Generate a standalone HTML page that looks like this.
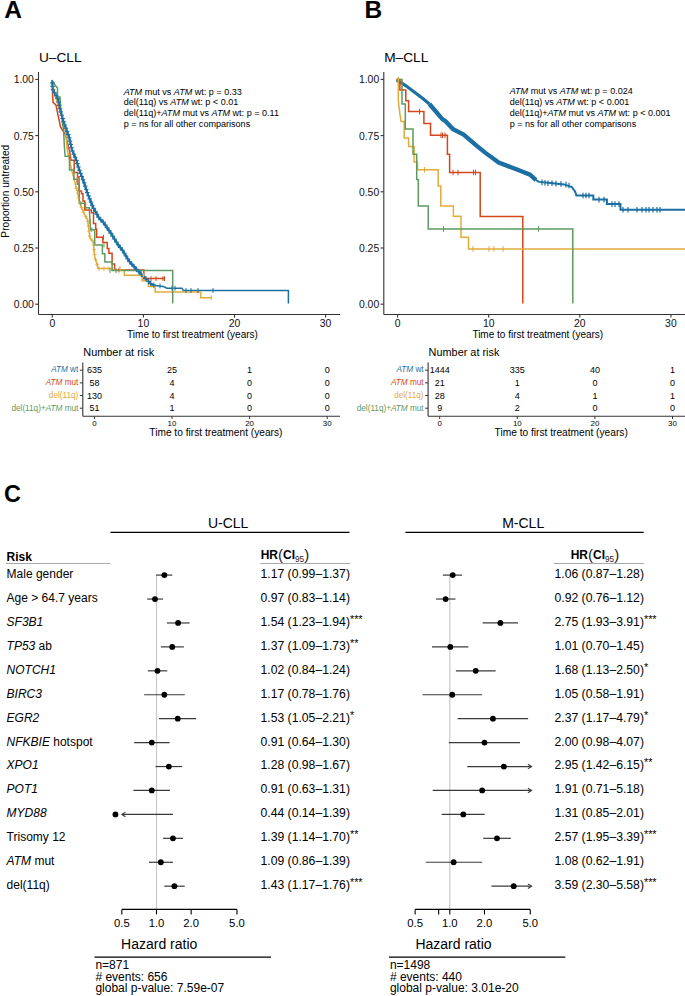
<!DOCTYPE html>
<html><head><meta charset="utf-8"><style>
html,body{margin:0;padding:0;background:#fff;width:685px;height:996px;overflow:hidden}
svg{display:block;font-family:"Liberation Sans", sans-serif}
</style></head><body>
<svg width="685" height="996" viewBox="0 0 685 996">
<rect width="685" height="996" fill="#fff"/>
<text x="4.20" y="17.60" font-size="24.5" text-anchor="start" font-weight="bold" fill="#000"  >A</text>
<text x="364.40" y="17.60" font-size="24.5" text-anchor="start" font-weight="bold" fill="#000"  >B</text>
<text x="4.00" y="502.20" font-size="23.5" text-anchor="start" font-weight="bold" fill="#000"  >C</text>
<text x="38.90" y="62.20" font-size="13.7" text-anchor="start" font-weight="normal" fill="#000"  >U–CLL</text>
<line x1="38.50" y1="72.00" x2="38.50" y2="314.50" stroke="#333" stroke-width="1.1"/>
<line x1="38.50" y1="314.50" x2="340.00" y2="314.50" stroke="#333" stroke-width="1.1"/>
<line x1="35.30" y1="79.40" x2="38.50" y2="79.40" stroke="#333" stroke-width="1.1"/>
<text x="33.90" y="83.30" font-size="10.4" text-anchor="end" font-weight="normal" fill="#111"  >1.00</text>
<line x1="35.30" y1="135.60" x2="38.50" y2="135.60" stroke="#333" stroke-width="1.1"/>
<text x="33.90" y="139.50" font-size="10.4" text-anchor="end" font-weight="normal" fill="#111"  >0.75</text>
<line x1="35.30" y1="191.80" x2="38.50" y2="191.80" stroke="#333" stroke-width="1.1"/>
<text x="33.90" y="195.70" font-size="10.4" text-anchor="end" font-weight="normal" fill="#111"  >0.50</text>
<line x1="35.30" y1="248.00" x2="38.50" y2="248.00" stroke="#333" stroke-width="1.1"/>
<text x="33.90" y="251.90" font-size="10.4" text-anchor="end" font-weight="normal" fill="#111"  >0.25</text>
<line x1="35.30" y1="304.20" x2="38.50" y2="304.20" stroke="#333" stroke-width="1.1"/>
<text x="33.90" y="308.10" font-size="10.4" text-anchor="end" font-weight="normal" fill="#111"  >0.00</text>
<line x1="52.30" y1="314.50" x2="52.30" y2="317.60" stroke="#333" stroke-width="1.1"/>
<text x="52.30" y="326.90" font-size="10.4" text-anchor="middle" font-weight="normal" fill="#111"  >0</text>
<line x1="143.40" y1="314.50" x2="143.40" y2="317.60" stroke="#333" stroke-width="1.1"/>
<text x="143.40" y="326.90" font-size="10.4" text-anchor="middle" font-weight="normal" fill="#111"  >10</text>
<line x1="234.50" y1="314.50" x2="234.50" y2="317.60" stroke="#333" stroke-width="1.1"/>
<text x="234.50" y="326.90" font-size="10.4" text-anchor="middle" font-weight="normal" fill="#111"  >20</text>
<line x1="325.60" y1="314.50" x2="325.60" y2="317.60" stroke="#333" stroke-width="1.1"/>
<text x="325.60" y="326.90" font-size="10.4" text-anchor="middle" font-weight="normal" fill="#111"  >30</text>
<text x="192.50" y="337.90" font-size="10" text-anchor="middle" font-weight="normal" fill="#000"  >Time to first treatment (years)</text>
<text transform="translate(8.5,191.2) rotate(-90)" font-size="10.2" text-anchor="middle">Proportion untreated</text>
<text x="123.70" y="94.50" font-size="9.05" text-anchor="start" font-weight="normal" fill="#000"  ><tspan font-style="italic">ATM</tspan> mut vs <tspan font-style="italic">ATM</tspan> wt: p = 0.33</text>
<text x="123.70" y="105.30" font-size="9.05" text-anchor="start" font-weight="normal" fill="#000"  >del(11q) vs <tspan font-style="italic">ATM</tspan> wt: p &lt; 0.01</text>
<text x="123.70" y="116.10" font-size="9.05" text-anchor="start" font-weight="normal" fill="#000"  >del(11q)+<tspan font-style="italic">ATM</tspan> mut vs <tspan font-style="italic">ATM</tspan> wt: p = 0.11</text>
<text x="123.70" y="126.90" font-size="9.05" text-anchor="start" font-weight="normal" fill="#000"  >p = ns for all other comparisons</text>
<polyline points="52.0,80.0 53.0,90.0 58.0,99.1 60.0,109.1 64.0,123.2 69.1,137.2 72.0,150.0 76.1,159.5 79.7,171.2 84.1,182.8 87.7,193.8 92.8,206.9 99.3,218.5 103.1,221.9 111.6,234.3 118.0,244.7 122.8,250.7 128.9,260.9 136.1,269.0 142.2,275.2 148.4,281.3 151.7,284.6 155.0,285.4" fill="none" stroke="#1b6fa3" stroke-width="1.9" stroke-linejoin="miter"/>
<polyline points="155.0,285.4 163.4,286.5 166.9,288.2 182.0,288.2 183.2,290.5 288.4,290.5 288.4,303.4" fill="none" stroke="#1b6fa3" stroke-width="1.5" stroke-linejoin="miter"/>
<polyline points="52.0,80.0 52.5,92.0 53.0,102.1 56.0,105.1 58.0,115.2 60.6,127.2 65.6,135.2 69.6,151.3 71.0,160.2 74.2,160.2 74.2,172.6 77.5,172.6 77.5,177.0 79.0,177.0 79.0,190.9 81.5,190.9 81.5,193.8 83.0,193.8 83.0,201.1 84.8,201.1 84.8,209.9 91.4,209.9 91.4,212.8 93.5,212.8 93.5,223.6 95.7,223.6 95.7,228.9 96.6,228.9 96.6,237.2 102.8,237.2 102.8,242.5 107.2,242.5 107.2,248.4 108.9,248.4 108.9,253.3 112.1,253.3 112.1,263.9 114.6,263.9 114.6,270.1 143.8,270.1 143.8,278.6 164.5,278.6" fill="none" stroke="#d5461a" stroke-width="1.5" stroke-linejoin="miter"/>
<polyline points="52.0,80.0 55.0,95.0 59.0,108.1 62.0,117.2 65.6,131.2 67.3,150.0 72.0,171.2 74.6,180.7 75.7,186.5 77.5,191.6 79.3,201.1 81.2,206.9 84.1,213.5 87.6,220.0 90.1,238.4 93.2,241.5 94.7,256.8 98.3,268.5 112.0,268.5 112.0,270.0 124.3,270.0 124.3,275.2 142.2,275.2 142.2,280.8 148.4,280.8 148.4,286.4 155.2,286.4 155.2,291.9 200.7,291.9 200.7,297.8 211.3,297.8" fill="none" stroke="#e1ab3a" stroke-width="1.5" stroke-linejoin="miter"/>
<polyline points="52.0,80.0 55.0,85.0 57.5,88.0 57.5,97.1 60.0,97.1 60.6,108.1 63.6,131.2 64.6,150.0 65.1,156.2 69.5,156.2 69.5,170.0 73.9,170.0 73.9,179.2 77.2,179.2 77.2,184.3 79.3,184.3 79.3,203.3 85.5,203.3 85.5,207.7 89.2,207.7 90.6,229.7 94.7,229.7 94.7,245.0 102.4,245.0 102.4,253.7 104.9,253.7 104.9,261.9 112.1,261.9 112.1,270.6 172.7,270.6 172.7,303.4" fill="none" stroke="#5e9a62" stroke-width="1.5" stroke-linejoin="miter"/>
<line x1="52.30" y1="80.39" x2="52.30" y2="85.59" stroke="#1b6fa3" stroke-width="1.1"/>
<line x1="50.00" y1="82.99" x2="54.60" y2="82.99" stroke="#1b6fa3" stroke-width="1.1"/>
<line x1="52.64" y1="83.77" x2="52.64" y2="88.97" stroke="#1b6fa3" stroke-width="1.1"/>
<line x1="50.34" y1="86.37" x2="54.94" y2="86.37" stroke="#1b6fa3" stroke-width="1.1"/>
<line x1="52.98" y1="87.15" x2="52.98" y2="92.35" stroke="#1b6fa3" stroke-width="1.1"/>
<line x1="50.68" y1="89.75" x2="55.28" y2="89.75" stroke="#1b6fa3" stroke-width="1.1"/>
<line x1="54.52" y1="90.16" x2="54.52" y2="95.36" stroke="#1b6fa3" stroke-width="1.1"/>
<line x1="52.22" y1="92.76" x2="56.82" y2="92.76" stroke="#1b6fa3" stroke-width="1.1"/>
<line x1="56.15" y1="93.14" x2="56.15" y2="98.34" stroke="#1b6fa3" stroke-width="1.1"/>
<line x1="53.85" y1="95.74" x2="58.45" y2="95.74" stroke="#1b6fa3" stroke-width="1.1"/>
<line x1="57.79" y1="96.12" x2="57.79" y2="101.32" stroke="#1b6fa3" stroke-width="1.1"/>
<line x1="55.49" y1="98.72" x2="60.09" y2="98.72" stroke="#1b6fa3" stroke-width="1.1"/>
<line x1="58.58" y1="99.41" x2="58.58" y2="104.61" stroke="#1b6fa3" stroke-width="1.1"/>
<line x1="56.28" y1="102.01" x2="60.88" y2="102.01" stroke="#1b6fa3" stroke-width="1.1"/>
<line x1="59.25" y1="102.74" x2="59.25" y2="107.94" stroke="#1b6fa3" stroke-width="1.1"/>
<line x1="56.95" y1="105.34" x2="61.55" y2="105.34" stroke="#1b6fa3" stroke-width="1.1"/>
<line x1="59.92" y1="106.08" x2="59.92" y2="111.28" stroke="#1b6fa3" stroke-width="1.1"/>
<line x1="57.62" y1="108.68" x2="62.22" y2="108.68" stroke="#1b6fa3" stroke-width="1.1"/>
<line x1="60.81" y1="109.36" x2="60.81" y2="114.56" stroke="#1b6fa3" stroke-width="1.1"/>
<line x1="58.51" y1="111.96" x2="63.11" y2="111.96" stroke="#1b6fa3" stroke-width="1.1"/>
<line x1="61.74" y1="112.63" x2="61.74" y2="117.83" stroke="#1b6fa3" stroke-width="1.1"/>
<line x1="59.44" y1="115.23" x2="64.04" y2="115.23" stroke="#1b6fa3" stroke-width="1.1"/>
<line x1="62.67" y1="115.90" x2="62.67" y2="121.10" stroke="#1b6fa3" stroke-width="1.1"/>
<line x1="60.37" y1="118.50" x2="64.97" y2="118.50" stroke="#1b6fa3" stroke-width="1.1"/>
<line x1="63.59" y1="119.17" x2="63.59" y2="124.37" stroke="#1b6fa3" stroke-width="1.1"/>
<line x1="61.29" y1="121.77" x2="65.89" y2="121.77" stroke="#1b6fa3" stroke-width="1.1"/>
<line x1="64.65" y1="122.40" x2="64.65" y2="127.60" stroke="#1b6fa3" stroke-width="1.1"/>
<line x1="62.35" y1="125.00" x2="66.95" y2="125.00" stroke="#1b6fa3" stroke-width="1.1"/>
<line x1="65.82" y1="125.59" x2="65.82" y2="130.79" stroke="#1b6fa3" stroke-width="1.1"/>
<line x1="63.52" y1="128.19" x2="68.12" y2="128.19" stroke="#1b6fa3" stroke-width="1.1"/>
<line x1="66.98" y1="128.79" x2="66.98" y2="133.99" stroke="#1b6fa3" stroke-width="1.1"/>
<line x1="64.68" y1="131.39" x2="69.28" y2="131.39" stroke="#1b6fa3" stroke-width="1.1"/>
<line x1="68.15" y1="131.98" x2="68.15" y2="137.18" stroke="#1b6fa3" stroke-width="1.1"/>
<line x1="65.85" y1="134.58" x2="70.45" y2="134.58" stroke="#1b6fa3" stroke-width="1.1"/>
<line x1="69.24" y1="135.20" x2="69.24" y2="140.40" stroke="#1b6fa3" stroke-width="1.1"/>
<line x1="66.94" y1="137.80" x2="71.54" y2="137.80" stroke="#1b6fa3" stroke-width="1.1"/>
<line x1="69.99" y1="138.51" x2="69.99" y2="143.71" stroke="#1b6fa3" stroke-width="1.1"/>
<line x1="67.69" y1="141.11" x2="72.29" y2="141.11" stroke="#1b6fa3" stroke-width="1.1"/>
<line x1="70.74" y1="141.83" x2="70.74" y2="147.03" stroke="#1b6fa3" stroke-width="1.1"/>
<line x1="68.44" y1="144.43" x2="73.04" y2="144.43" stroke="#1b6fa3" stroke-width="1.1"/>
<line x1="71.49" y1="145.15" x2="71.49" y2="150.35" stroke="#1b6fa3" stroke-width="1.1"/>
<line x1="69.19" y1="147.75" x2="73.79" y2="147.75" stroke="#1b6fa3" stroke-width="1.1"/>
<line x1="72.43" y1="148.40" x2="72.43" y2="153.60" stroke="#1b6fa3" stroke-width="1.1"/>
<line x1="70.13" y1="151.00" x2="74.73" y2="151.00" stroke="#1b6fa3" stroke-width="1.1"/>
<line x1="73.78" y1="151.52" x2="73.78" y2="156.72" stroke="#1b6fa3" stroke-width="1.1"/>
<line x1="71.48" y1="154.12" x2="76.08" y2="154.12" stroke="#1b6fa3" stroke-width="1.1"/>
<line x1="75.13" y1="154.64" x2="75.13" y2="159.84" stroke="#1b6fa3" stroke-width="1.1"/>
<line x1="72.83" y1="157.24" x2="77.43" y2="157.24" stroke="#1b6fa3" stroke-width="1.1"/>
<line x1="76.38" y1="157.80" x2="76.38" y2="163.00" stroke="#1b6fa3" stroke-width="1.1"/>
<line x1="74.08" y1="160.40" x2="78.68" y2="160.40" stroke="#1b6fa3" stroke-width="1.1"/>
<line x1="77.38" y1="161.05" x2="77.38" y2="166.25" stroke="#1b6fa3" stroke-width="1.1"/>
<line x1="75.08" y1="163.65" x2="79.68" y2="163.65" stroke="#1b6fa3" stroke-width="1.1"/>
<line x1="78.38" y1="164.30" x2="78.38" y2="169.50" stroke="#1b6fa3" stroke-width="1.1"/>
<line x1="76.08" y1="166.90" x2="80.68" y2="166.90" stroke="#1b6fa3" stroke-width="1.1"/>
<line x1="79.38" y1="167.55" x2="79.38" y2="172.75" stroke="#1b6fa3" stroke-width="1.1"/>
<line x1="77.08" y1="170.15" x2="81.68" y2="170.15" stroke="#1b6fa3" stroke-width="1.1"/>
<line x1="80.52" y1="170.75" x2="80.52" y2="175.95" stroke="#1b6fa3" stroke-width="1.1"/>
<line x1="78.22" y1="173.35" x2="82.82" y2="173.35" stroke="#1b6fa3" stroke-width="1.1"/>
<line x1="81.72" y1="173.93" x2="81.72" y2="179.13" stroke="#1b6fa3" stroke-width="1.1"/>
<line x1="79.42" y1="176.53" x2="84.02" y2="176.53" stroke="#1b6fa3" stroke-width="1.1"/>
<line x1="82.93" y1="177.11" x2="82.93" y2="182.31" stroke="#1b6fa3" stroke-width="1.1"/>
<line x1="80.63" y1="179.71" x2="85.23" y2="179.71" stroke="#1b6fa3" stroke-width="1.1"/>
<line x1="84.13" y1="180.29" x2="84.13" y2="185.49" stroke="#1b6fa3" stroke-width="1.1"/>
<line x1="81.83" y1="182.89" x2="86.43" y2="182.89" stroke="#1b6fa3" stroke-width="1.1"/>
<line x1="85.19" y1="183.52" x2="85.19" y2="188.72" stroke="#1b6fa3" stroke-width="1.1"/>
<line x1="82.89" y1="186.12" x2="87.49" y2="186.12" stroke="#1b6fa3" stroke-width="1.1"/>
<line x1="86.24" y1="186.75" x2="86.24" y2="191.95" stroke="#1b6fa3" stroke-width="1.1"/>
<line x1="83.94" y1="189.35" x2="88.54" y2="189.35" stroke="#1b6fa3" stroke-width="1.1"/>
<line x1="87.30" y1="189.98" x2="87.30" y2="195.18" stroke="#1b6fa3" stroke-width="1.1"/>
<line x1="85.00" y1="192.58" x2="89.60" y2="192.58" stroke="#1b6fa3" stroke-width="1.1"/>
<line x1="88.47" y1="193.17" x2="88.47" y2="198.37" stroke="#1b6fa3" stroke-width="1.1"/>
<line x1="86.17" y1="195.77" x2="90.77" y2="195.77" stroke="#1b6fa3" stroke-width="1.1"/>
<line x1="89.70" y1="196.34" x2="89.70" y2="201.54" stroke="#1b6fa3" stroke-width="1.1"/>
<line x1="87.40" y1="198.94" x2="92.00" y2="198.94" stroke="#1b6fa3" stroke-width="1.1"/>
<line x1="90.94" y1="199.51" x2="90.94" y2="204.71" stroke="#1b6fa3" stroke-width="1.1"/>
<line x1="88.64" y1="202.11" x2="93.24" y2="202.11" stroke="#1b6fa3" stroke-width="1.1"/>
<line x1="92.17" y1="202.68" x2="92.17" y2="207.88" stroke="#1b6fa3" stroke-width="1.1"/>
<line x1="89.87" y1="205.28" x2="94.47" y2="205.28" stroke="#1b6fa3" stroke-width="1.1"/>
<line x1="93.61" y1="205.75" x2="93.61" y2="210.95" stroke="#1b6fa3" stroke-width="1.1"/>
<line x1="91.31" y1="208.35" x2="95.91" y2="208.35" stroke="#1b6fa3" stroke-width="1.1"/>
<line x1="95.27" y1="208.72" x2="95.27" y2="213.92" stroke="#1b6fa3" stroke-width="1.1"/>
<line x1="92.97" y1="211.32" x2="97.57" y2="211.32" stroke="#1b6fa3" stroke-width="1.1"/>
<line x1="96.94" y1="211.68" x2="96.94" y2="216.88" stroke="#1b6fa3" stroke-width="1.1"/>
<line x1="94.64" y1="214.28" x2="99.24" y2="214.28" stroke="#1b6fa3" stroke-width="1.1"/>
<line x1="98.60" y1="214.65" x2="98.60" y2="219.85" stroke="#1b6fa3" stroke-width="1.1"/>
<line x1="96.30" y1="217.25" x2="100.90" y2="217.25" stroke="#1b6fa3" stroke-width="1.1"/>
<line x1="100.76" y1="217.21" x2="100.76" y2="222.41" stroke="#1b6fa3" stroke-width="1.1"/>
<line x1="98.46" y1="219.81" x2="103.06" y2="219.81" stroke="#1b6fa3" stroke-width="1.1"/>
<line x1="103.25" y1="219.52" x2="103.25" y2="224.72" stroke="#1b6fa3" stroke-width="1.1"/>
<line x1="100.95" y1="222.12" x2="105.55" y2="222.12" stroke="#1b6fa3" stroke-width="1.1"/>
<line x1="105.17" y1="222.32" x2="105.17" y2="227.52" stroke="#1b6fa3" stroke-width="1.1"/>
<line x1="102.87" y1="224.92" x2="107.47" y2="224.92" stroke="#1b6fa3" stroke-width="1.1"/>
<line x1="107.09" y1="225.13" x2="107.09" y2="230.33" stroke="#1b6fa3" stroke-width="1.1"/>
<line x1="104.79" y1="227.73" x2="109.39" y2="227.73" stroke="#1b6fa3" stroke-width="1.1"/>
<line x1="109.02" y1="227.93" x2="109.02" y2="233.13" stroke="#1b6fa3" stroke-width="1.1"/>
<line x1="106.72" y1="230.53" x2="111.32" y2="230.53" stroke="#1b6fa3" stroke-width="1.1"/>
<line x1="110.94" y1="230.74" x2="110.94" y2="235.94" stroke="#1b6fa3" stroke-width="1.1"/>
<line x1="108.64" y1="233.34" x2="113.24" y2="233.34" stroke="#1b6fa3" stroke-width="1.1"/>
<line x1="112.77" y1="233.60" x2="112.77" y2="238.80" stroke="#1b6fa3" stroke-width="1.1"/>
<line x1="110.47" y1="236.20" x2="115.07" y2="236.20" stroke="#1b6fa3" stroke-width="1.1"/>
<line x1="114.55" y1="236.50" x2="114.55" y2="241.70" stroke="#1b6fa3" stroke-width="1.1"/>
<line x1="112.25" y1="239.10" x2="116.85" y2="239.10" stroke="#1b6fa3" stroke-width="1.1"/>
<line x1="116.33" y1="239.39" x2="116.33" y2="244.59" stroke="#1b6fa3" stroke-width="1.1"/>
<line x1="114.03" y1="241.99" x2="118.63" y2="241.99" stroke="#1b6fa3" stroke-width="1.1"/>
<line x1="118.14" y1="242.27" x2="118.14" y2="247.47" stroke="#1b6fa3" stroke-width="1.1"/>
<line x1="115.84" y1="244.87" x2="120.44" y2="244.87" stroke="#1b6fa3" stroke-width="1.1"/>
<line x1="120.26" y1="244.93" x2="120.26" y2="250.13" stroke="#1b6fa3" stroke-width="1.1"/>
<line x1="117.96" y1="247.53" x2="122.56" y2="247.53" stroke="#1b6fa3" stroke-width="1.1"/>
<line x1="122.39" y1="247.58" x2="122.39" y2="252.78" stroke="#1b6fa3" stroke-width="1.1"/>
<line x1="120.09" y1="250.18" x2="124.69" y2="250.18" stroke="#1b6fa3" stroke-width="1.1"/>
<line x1="124.20" y1="250.45" x2="124.20" y2="255.65" stroke="#1b6fa3" stroke-width="1.1"/>
<line x1="121.90" y1="253.05" x2="126.50" y2="253.05" stroke="#1b6fa3" stroke-width="1.1"/>
<line x1="125.95" y1="253.37" x2="125.95" y2="258.57" stroke="#1b6fa3" stroke-width="1.1"/>
<line x1="123.65" y1="255.97" x2="128.25" y2="255.97" stroke="#1b6fa3" stroke-width="1.1"/>
<line x1="127.69" y1="256.28" x2="127.69" y2="261.48" stroke="#1b6fa3" stroke-width="1.1"/>
<line x1="125.39" y1="258.88" x2="129.99" y2="258.88" stroke="#1b6fa3" stroke-width="1.1"/>
<line x1="129.60" y1="259.09" x2="129.60" y2="264.29" stroke="#1b6fa3" stroke-width="1.1"/>
<line x1="127.30" y1="261.69" x2="131.90" y2="261.69" stroke="#1b6fa3" stroke-width="1.1"/>
<line x1="131.86" y1="261.63" x2="131.86" y2="266.83" stroke="#1b6fa3" stroke-width="1.1"/>
<line x1="129.56" y1="264.23" x2="134.16" y2="264.23" stroke="#1b6fa3" stroke-width="1.1"/>
<line x1="134.12" y1="264.17" x2="134.12" y2="269.37" stroke="#1b6fa3" stroke-width="1.1"/>
<line x1="131.82" y1="266.77" x2="136.42" y2="266.77" stroke="#1b6fa3" stroke-width="1.1"/>
<line x1="136.39" y1="266.70" x2="136.39" y2="271.90" stroke="#1b6fa3" stroke-width="1.1"/>
<line x1="134.09" y1="269.30" x2="138.69" y2="269.30" stroke="#1b6fa3" stroke-width="1.1"/>
<line x1="138.78" y1="269.12" x2="138.78" y2="274.32" stroke="#1b6fa3" stroke-width="1.1"/>
<line x1="136.48" y1="271.72" x2="141.08" y2="271.72" stroke="#1b6fa3" stroke-width="1.1"/>
<line x1="141.16" y1="271.54" x2="141.16" y2="276.74" stroke="#1b6fa3" stroke-width="1.1"/>
<line x1="138.86" y1="274.14" x2="143.46" y2="274.14" stroke="#1b6fa3" stroke-width="1.1"/>
<line x1="143.57" y1="273.94" x2="143.57" y2="279.14" stroke="#1b6fa3" stroke-width="1.1"/>
<line x1="141.27" y1="276.54" x2="145.87" y2="276.54" stroke="#1b6fa3" stroke-width="1.1"/>
<line x1="145.99" y1="276.33" x2="145.99" y2="281.53" stroke="#1b6fa3" stroke-width="1.1"/>
<line x1="143.69" y1="278.93" x2="148.29" y2="278.93" stroke="#1b6fa3" stroke-width="1.1"/>
<line x1="148.41" y1="278.71" x2="148.41" y2="283.91" stroke="#1b6fa3" stroke-width="1.1"/>
<line x1="146.11" y1="281.31" x2="150.71" y2="281.31" stroke="#1b6fa3" stroke-width="1.1"/>
<line x1="150.82" y1="281.12" x2="150.82" y2="286.32" stroke="#1b6fa3" stroke-width="1.1"/>
<line x1="148.52" y1="283.72" x2="153.12" y2="283.72" stroke="#1b6fa3" stroke-width="1.1"/>
<line x1="153.79" y1="282.51" x2="153.79" y2="287.71" stroke="#1b6fa3" stroke-width="1.1"/>
<line x1="151.49" y1="285.11" x2="156.09" y2="285.11" stroke="#1b6fa3" stroke-width="1.1"/>
<line x1="76.37" y1="186.09" x2="76.37" y2="190.69" stroke="#e1ab3a" stroke-width="0.9"/>
<line x1="74.57" y1="188.39" x2="78.17" y2="188.39" stroke="#e1ab3a" stroke-width="0.9"/>
<line x1="77.80" y1="190.86" x2="77.80" y2="195.46" stroke="#e1ab3a" stroke-width="0.9"/>
<line x1="76.00" y1="193.16" x2="79.60" y2="193.16" stroke="#e1ab3a" stroke-width="0.9"/>
<line x1="78.73" y1="195.78" x2="78.73" y2="200.38" stroke="#e1ab3a" stroke-width="0.9"/>
<line x1="76.93" y1="198.08" x2="80.53" y2="198.08" stroke="#e1ab3a" stroke-width="0.9"/>
<line x1="79.90" y1="200.63" x2="79.90" y2="205.23" stroke="#e1ab3a" stroke-width="0.9"/>
<line x1="78.10" y1="202.93" x2="81.70" y2="202.93" stroke="#e1ab3a" stroke-width="0.9"/>
<line x1="81.53" y1="205.35" x2="81.53" y2="209.95" stroke="#e1ab3a" stroke-width="0.9"/>
<line x1="79.73" y1="207.65" x2="83.33" y2="207.65" stroke="#e1ab3a" stroke-width="0.9"/>
<line x1="83.54" y1="209.93" x2="83.54" y2="214.53" stroke="#e1ab3a" stroke-width="0.9"/>
<line x1="81.74" y1="212.23" x2="85.34" y2="212.23" stroke="#e1ab3a" stroke-width="0.9"/>
<line x1="85.81" y1="214.38" x2="85.81" y2="218.98" stroke="#e1ab3a" stroke-width="0.9"/>
<line x1="84.01" y1="216.68" x2="87.61" y2="216.68" stroke="#e1ab3a" stroke-width="0.9"/>
<line x1="87.77" y1="218.92" x2="87.77" y2="223.52" stroke="#e1ab3a" stroke-width="0.9"/>
<line x1="85.97" y1="221.22" x2="89.57" y2="221.22" stroke="#e1ab3a" stroke-width="0.9"/>
<line x1="88.44" y1="223.87" x2="88.44" y2="228.47" stroke="#e1ab3a" stroke-width="0.9"/>
<line x1="86.64" y1="226.17" x2="90.24" y2="226.17" stroke="#e1ab3a" stroke-width="0.9"/>
<line x1="89.11" y1="228.83" x2="89.11" y2="233.43" stroke="#e1ab3a" stroke-width="0.9"/>
<line x1="87.31" y1="231.13" x2="90.91" y2="231.13" stroke="#e1ab3a" stroke-width="0.9"/>
<line x1="89.78" y1="233.78" x2="89.78" y2="238.38" stroke="#e1ab3a" stroke-width="0.9"/>
<line x1="87.98" y1="236.08" x2="91.58" y2="236.08" stroke="#e1ab3a" stroke-width="0.9"/>
<line x1="91.98" y1="237.98" x2="91.98" y2="242.58" stroke="#e1ab3a" stroke-width="0.9"/>
<line x1="90.18" y1="240.28" x2="93.78" y2="240.28" stroke="#e1ab3a" stroke-width="0.9"/>
<line x1="93.52" y1="242.46" x2="93.52" y2="247.06" stroke="#e1ab3a" stroke-width="0.9"/>
<line x1="91.72" y1="244.76" x2="95.32" y2="244.76" stroke="#e1ab3a" stroke-width="0.9"/>
<line x1="94.01" y1="247.44" x2="94.01" y2="252.04" stroke="#e1ab3a" stroke-width="0.9"/>
<line x1="92.21" y1="249.74" x2="95.81" y2="249.74" stroke="#e1ab3a" stroke-width="0.9"/>
<line x1="94.50" y1="252.41" x2="94.50" y2="257.01" stroke="#e1ab3a" stroke-width="0.9"/>
<line x1="92.70" y1="254.71" x2="96.30" y2="254.71" stroke="#e1ab3a" stroke-width="0.9"/>
<line x1="95.55" y1="257.27" x2="95.55" y2="261.87" stroke="#e1ab3a" stroke-width="0.9"/>
<line x1="93.75" y1="259.57" x2="97.35" y2="259.57" stroke="#e1ab3a" stroke-width="0.9"/>
<line x1="97.02" y1="262.05" x2="97.02" y2="266.65" stroke="#e1ab3a" stroke-width="0.9"/>
<line x1="95.22" y1="264.35" x2="98.82" y2="264.35" stroke="#e1ab3a" stroke-width="0.9"/>
<line x1="98.96" y1="266.20" x2="98.96" y2="270.80" stroke="#e1ab3a" stroke-width="0.9"/>
<line x1="97.16" y1="268.50" x2="100.76" y2="268.50" stroke="#e1ab3a" stroke-width="0.9"/>
<line x1="103.96" y1="266.20" x2="103.96" y2="270.80" stroke="#e1ab3a" stroke-width="0.9"/>
<line x1="102.16" y1="268.50" x2="105.76" y2="268.50" stroke="#e1ab3a" stroke-width="0.9"/>
<line x1="108.96" y1="266.20" x2="108.96" y2="270.80" stroke="#e1ab3a" stroke-width="0.9"/>
<line x1="107.16" y1="268.50" x2="110.76" y2="268.50" stroke="#e1ab3a" stroke-width="0.9"/>
<line x1="77.20" y1="177.70" x2="77.20" y2="182.10" stroke="#5e9a62" stroke-width="0.9"/>
<line x1="79.30" y1="184.60" x2="79.30" y2="189.00" stroke="#5e9a62" stroke-width="0.9"/>
<line x1="79.30" y1="193.60" x2="79.30" y2="198.00" stroke="#5e9a62" stroke-width="0.9"/>
<line x1="80.80" y1="201.10" x2="80.80" y2="205.50" stroke="#5e9a62" stroke-width="0.9"/>
<line x1="85.50" y1="205.40" x2="85.50" y2="209.80" stroke="#5e9a62" stroke-width="0.9"/>
<line x1="89.53" y1="210.69" x2="89.53" y2="215.09" stroke="#5e9a62" stroke-width="0.9"/>
<line x1="90.10" y1="219.67" x2="90.10" y2="224.07" stroke="#5e9a62" stroke-width="0.9"/>
<line x1="91.76" y1="227.50" x2="91.76" y2="231.90" stroke="#5e9a62" stroke-width="0.9"/>
<line x1="151.00" y1="276.20" x2="151.00" y2="281.00" stroke="#d5461a" stroke-width="1.0"/>
<line x1="156.00" y1="276.20" x2="156.00" y2="281.00" stroke="#d5461a" stroke-width="1.0"/>
<line x1="163.00" y1="276.20" x2="163.00" y2="281.00" stroke="#d5461a" stroke-width="1.0"/>
<line x1="164.50" y1="276.20" x2="164.50" y2="281.00" stroke="#d5461a" stroke-width="1.0"/>
<line x1="103.50" y1="234.80" x2="103.50" y2="239.60" stroke="#d5461a" stroke-width="1.0"/>
<line x1="119.00" y1="267.70" x2="119.00" y2="272.50" stroke="#d5461a" stroke-width="1.0"/>
<line x1="175.00" y1="285.80" x2="175.00" y2="290.60" stroke="#1b6fa3" stroke-width="1.0"/>
<line x1="186.00" y1="288.10" x2="186.00" y2="292.90" stroke="#1b6fa3" stroke-width="1.0"/>
<line x1="191.00" y1="288.10" x2="191.00" y2="292.90" stroke="#1b6fa3" stroke-width="1.0"/>
<line x1="198.00" y1="288.10" x2="198.00" y2="292.90" stroke="#1b6fa3" stroke-width="1.0"/>
<line x1="213.00" y1="288.10" x2="213.00" y2="292.90" stroke="#1b6fa3" stroke-width="1.0"/>
<line x1="160.00" y1="283.60" x2="160.00" y2="288.40" stroke="#1b6fa3" stroke-width="1.0"/>
<line x1="172.00" y1="285.80" x2="172.00" y2="290.60" stroke="#1b6fa3" stroke-width="1.0"/>
<line x1="211.30" y1="295.40" x2="211.30" y2="300.20" stroke="#e1ab3a" stroke-width="1.0"/>
<line x1="120.00" y1="266.10" x2="120.00" y2="270.90" stroke="#e1ab3a" stroke-width="1.0"/>
<line x1="143.50" y1="272.80" x2="143.50" y2="277.60" stroke="#e1ab3a" stroke-width="1.0"/>
<line x1="104.00" y1="242.60" x2="104.00" y2="247.40" stroke="#5e9a62" stroke-width="1.0"/>
<line x1="110.00" y1="268.20" x2="110.00" y2="273.00" stroke="#5e9a62" stroke-width="1.0"/>
<line x1="116.00" y1="268.20" x2="116.00" y2="273.00" stroke="#5e9a62" stroke-width="1.0"/>
<text x="83.30" y="355.80" font-size="10.9" text-anchor="start" font-weight="normal" fill="#000"  >Number at risk</text>
<line x1="82.80" y1="362.40" x2="82.80" y2="416.20" stroke="#333" stroke-width="1.1"/>
<line x1="82.80" y1="416.20" x2="340.00" y2="416.20" stroke="#333" stroke-width="1.1"/>
<line x1="79.80" y1="370.20" x2="82.80" y2="370.20" stroke="#333" stroke-width="1"/>
<text x="78.30" y="371.80" font-size="8.2" text-anchor="end" font-weight="normal" fill="#1b6fa3"  ><tspan font-style="italic">ATM</tspan> wt</text>
<text x="94.40" y="373.40" font-size="9" text-anchor="middle" font-weight="normal" fill="#000"  >635</text>
<text x="172.00" y="373.40" font-size="9" text-anchor="middle" font-weight="normal" fill="#000"  >25</text>
<text x="249.60" y="373.40" font-size="9" text-anchor="middle" font-weight="normal" fill="#000"  >1</text>
<text x="327.20" y="373.40" font-size="9" text-anchor="middle" font-weight="normal" fill="#000"  >0</text>
<line x1="79.80" y1="382.87" x2="82.80" y2="382.87" stroke="#333" stroke-width="1"/>
<text x="78.30" y="385.00" font-size="8.2" text-anchor="end" font-weight="normal" fill="#d5461a"  ><tspan font-style="italic">ATM</tspan> mut</text>
<text x="94.40" y="386.07" font-size="9" text-anchor="middle" font-weight="normal" fill="#000"  >58</text>
<text x="172.00" y="386.07" font-size="9" text-anchor="middle" font-weight="normal" fill="#000"  >4</text>
<text x="249.60" y="386.07" font-size="9" text-anchor="middle" font-weight="normal" fill="#000"  >0</text>
<text x="327.20" y="386.07" font-size="9" text-anchor="middle" font-weight="normal" fill="#000"  >0</text>
<line x1="79.80" y1="395.54" x2="82.80" y2="395.54" stroke="#333" stroke-width="1"/>
<text x="78.30" y="398.00" font-size="8.2" text-anchor="end" font-weight="normal" fill="#e1ab3a"  >del(11q)</text>
<text x="94.40" y="398.74" font-size="9" text-anchor="middle" font-weight="normal" fill="#000"  >130</text>
<text x="172.00" y="398.74" font-size="9" text-anchor="middle" font-weight="normal" fill="#000"  >4</text>
<text x="249.60" y="398.74" font-size="9" text-anchor="middle" font-weight="normal" fill="#000"  >0</text>
<text x="327.20" y="398.74" font-size="9" text-anchor="middle" font-weight="normal" fill="#000"  >0</text>
<line x1="79.80" y1="408.21" x2="82.80" y2="408.21" stroke="#333" stroke-width="1"/>
<text x="78.30" y="410.60" font-size="8.2" text-anchor="end" font-weight="normal" fill="#5e9a62"  >del(11q)+<tspan font-style="italic">ATM</tspan> mut</text>
<text x="94.40" y="411.41" font-size="9" text-anchor="middle" font-weight="normal" fill="#000"  >51</text>
<text x="172.00" y="411.41" font-size="9" text-anchor="middle" font-weight="normal" fill="#000"  >1</text>
<text x="249.60" y="411.41" font-size="9" text-anchor="middle" font-weight="normal" fill="#000"  >0</text>
<text x="327.20" y="411.41" font-size="9" text-anchor="middle" font-weight="normal" fill="#000"  >0</text>
<line x1="94.40" y1="416.20" x2="94.40" y2="419.00" stroke="#333" stroke-width="1"/>
<text x="94.40" y="425.70" font-size="7.9" text-anchor="middle" font-weight="normal" fill="#000"  >0</text>
<line x1="172.00" y1="416.20" x2="172.00" y2="419.00" stroke="#333" stroke-width="1"/>
<text x="172.00" y="425.70" font-size="7.9" text-anchor="middle" font-weight="normal" fill="#000"  >10</text>
<line x1="249.60" y1="416.20" x2="249.60" y2="419.00" stroke="#333" stroke-width="1"/>
<text x="249.60" y="425.70" font-size="7.9" text-anchor="middle" font-weight="normal" fill="#000"  >20</text>
<line x1="327.20" y1="416.20" x2="327.20" y2="419.00" stroke="#333" stroke-width="1"/>
<text x="327.20" y="425.70" font-size="7.9" text-anchor="middle" font-weight="normal" fill="#000"  >30</text>
<text x="215.90" y="436.00" font-size="10.2" text-anchor="middle" font-weight="normal" fill="#000"  >Time to first treatment (years)</text>
<text x="384.20" y="62.20" font-size="13.7" text-anchor="start" font-weight="normal" fill="#000"  >M–CLL</text>
<line x1="383.80" y1="72.00" x2="383.80" y2="314.50" stroke="#333" stroke-width="1.1"/>
<line x1="383.80" y1="314.50" x2="685.30" y2="314.50" stroke="#333" stroke-width="1.1"/>
<line x1="380.60" y1="79.40" x2="383.80" y2="79.40" stroke="#333" stroke-width="1.1"/>
<text x="379.20" y="83.30" font-size="10.4" text-anchor="end" font-weight="normal" fill="#111"  >1.00</text>
<line x1="380.60" y1="135.60" x2="383.80" y2="135.60" stroke="#333" stroke-width="1.1"/>
<text x="379.20" y="139.50" font-size="10.4" text-anchor="end" font-weight="normal" fill="#111"  >0.75</text>
<line x1="380.60" y1="191.80" x2="383.80" y2="191.80" stroke="#333" stroke-width="1.1"/>
<text x="379.20" y="195.70" font-size="10.4" text-anchor="end" font-weight="normal" fill="#111"  >0.50</text>
<line x1="380.60" y1="248.00" x2="383.80" y2="248.00" stroke="#333" stroke-width="1.1"/>
<text x="379.20" y="251.90" font-size="10.4" text-anchor="end" font-weight="normal" fill="#111"  >0.25</text>
<line x1="380.60" y1="304.20" x2="383.80" y2="304.20" stroke="#333" stroke-width="1.1"/>
<text x="379.20" y="308.10" font-size="10.4" text-anchor="end" font-weight="normal" fill="#111"  >0.00</text>
<line x1="397.60" y1="314.50" x2="397.60" y2="317.60" stroke="#333" stroke-width="1.1"/>
<text x="397.60" y="326.90" font-size="10.4" text-anchor="middle" font-weight="normal" fill="#111"  >0</text>
<line x1="488.70" y1="314.50" x2="488.70" y2="317.60" stroke="#333" stroke-width="1.1"/>
<text x="488.70" y="326.90" font-size="10.4" text-anchor="middle" font-weight="normal" fill="#111"  >10</text>
<line x1="579.80" y1="314.50" x2="579.80" y2="317.60" stroke="#333" stroke-width="1.1"/>
<text x="579.80" y="326.90" font-size="10.4" text-anchor="middle" font-weight="normal" fill="#111"  >20</text>
<line x1="670.90" y1="314.50" x2="670.90" y2="317.60" stroke="#333" stroke-width="1.1"/>
<text x="670.90" y="326.90" font-size="10.4" text-anchor="middle" font-weight="normal" fill="#111"  >30</text>
<text x="537.80" y="337.90" font-size="10" text-anchor="middle" font-weight="normal" fill="#000"  >Time to first treatment (years)</text>
<text x="509.70" y="94.10" font-size="9.05" text-anchor="start" font-weight="normal" fill="#000"  ><tspan font-style="italic">ATM</tspan> mut vs <tspan font-style="italic">ATM</tspan> wt: p = 0.024</text>
<text x="509.70" y="104.90" font-size="9.05" text-anchor="start" font-weight="normal" fill="#000"  >del(11q) vs <tspan font-style="italic">ATM</tspan> wt: p &lt; 0.001</text>
<text x="509.70" y="115.70" font-size="9.05" text-anchor="start" font-weight="normal" fill="#000"  >del(11q)+<tspan font-style="italic">ATM</tspan> mut vs <tspan font-style="italic">ATM</tspan> wt: p &lt; 0.001</text>
<text x="509.70" y="126.50" font-size="9.05" text-anchor="start" font-weight="normal" fill="#000"  >p = ns for all other comparisons</text>
<polyline points="396.6,79.9 405.3,85.3 422.8,98.5 429.4,104.0" fill="none" stroke="#1b6fa3" stroke-width="3.2" stroke-linejoin="miter"/>
<polyline points="429.4,104.0 442.6,119.3 445.3,121.0 453.1,129.3 463.6,134.5 476.8,145.9 485.5,152.9 498.7,162.5 517.0,169.6 530.0,174.7 536.0,180.2" fill="none" stroke="#1b6fa3" stroke-width="4.3" stroke-linejoin="miter"/>
<polyline points="536.0,180.2 539.0,181.9 552.6,183.3 564.0,184.4 571.9,187.1 575.2,191.7 576.4,195.5 593.3,195.5 593.3,199.6 606.9,199.6 606.9,204.1 620.5,204.1 620.5,209.8 685.0,209.8" fill="none" stroke="#1b6fa3" stroke-width="2.0" stroke-linejoin="miter"/>
<polyline points="396.6,79.4 399.9,79.4 399.9,90.1 405.8,90.1 405.8,100.7 408.6,100.7 408.6,111.6 423.9,111.6 423.9,123.6 430.5,123.6 430.5,135.3 447.4,135.3 447.4,154.3 449.6,154.3 449.6,172.5 480.2,172.5 480.2,216.6 522.8,216.6 522.8,303.4" fill="none" stroke="#d5461a" stroke-width="1.5" stroke-linejoin="miter"/>
<polyline points="396.6,79.4 398.3,79.4 398.3,100.7 399.9,113.8 401.0,121.5 404.2,121.5 404.2,137.9 408.6,137.9 408.6,146.6 414.1,146.6 414.1,162.0 417.4,162.0 417.4,169.8 438.2,169.8 438.2,186.0 440.8,186.0 440.8,206.0 453.4,206.0 453.4,216.2 461.0,216.2 461.0,237.3 468.5,237.3 468.5,248.9 685.0,248.9" fill="none" stroke="#e1ab3a" stroke-width="1.5" stroke-linejoin="miter"/>
<polyline points="396.6,79.4 402.0,79.4 402.0,104.0 405.3,104.0 405.3,129.1 413.0,129.1 413.0,154.3 416.7,154.3 416.7,179.5 418.3,179.5 418.3,206.0 428.2,206.0 428.2,229.0 572.8,229.0 572.8,303.4" fill="none" stroke="#5e9a62" stroke-width="1.5" stroke-linejoin="miter"/>
<line x1="419.50" y1="108.80" x2="419.50" y2="114.40" stroke="#d5461a" stroke-width="1.0"/>
<line x1="441.00" y1="132.50" x2="441.00" y2="138.10" stroke="#d5461a" stroke-width="1.0"/>
<line x1="442.50" y1="132.50" x2="442.50" y2="138.10" stroke="#d5461a" stroke-width="1.0"/>
<line x1="445.00" y1="132.50" x2="445.00" y2="138.10" stroke="#d5461a" stroke-width="1.0"/>
<line x1="453.00" y1="169.70" x2="453.00" y2="175.30" stroke="#d5461a" stroke-width="1.0"/>
<line x1="458.00" y1="169.70" x2="458.00" y2="175.30" stroke="#d5461a" stroke-width="1.0"/>
<line x1="473.50" y1="169.70" x2="473.50" y2="175.30" stroke="#d5461a" stroke-width="1.0"/>
<line x1="475.50" y1="169.70" x2="475.50" y2="175.30" stroke="#d5461a" stroke-width="1.0"/>
<line x1="424.50" y1="167.00" x2="424.50" y2="172.60" stroke="#e1ab3a" stroke-width="1.0"/>
<line x1="473.00" y1="246.10" x2="473.00" y2="251.70" stroke="#e1ab3a" stroke-width="1.0"/>
<line x1="489.00" y1="246.10" x2="489.00" y2="251.70" stroke="#e1ab3a" stroke-width="1.0"/>
<line x1="494.00" y1="246.10" x2="494.00" y2="251.70" stroke="#e1ab3a" stroke-width="1.0"/>
<line x1="503.00" y1="246.10" x2="503.00" y2="251.70" stroke="#e1ab3a" stroke-width="1.0"/>
<line x1="398.50" y1="76.60" x2="398.50" y2="82.20" stroke="#e1ab3a" stroke-width="1.0"/>
<line x1="443.50" y1="226.20" x2="443.50" y2="231.80" stroke="#5e9a62" stroke-width="1.0"/>
<line x1="538.50" y1="226.20" x2="538.50" y2="231.80" stroke="#5e9a62" stroke-width="1.0"/>
<line x1="548.00" y1="180.50" x2="548.00" y2="186.10" stroke="#1b6fa3" stroke-width="1.2"/>
<line x1="552.00" y1="180.50" x2="552.00" y2="186.10" stroke="#1b6fa3" stroke-width="1.2"/>
<line x1="556.00" y1="180.80" x2="556.00" y2="186.40" stroke="#1b6fa3" stroke-width="1.2"/>
<line x1="561.00" y1="181.20" x2="561.00" y2="186.80" stroke="#1b6fa3" stroke-width="1.2"/>
<line x1="583.00" y1="192.70" x2="583.00" y2="198.30" stroke="#1b6fa3" stroke-width="1.2"/>
<line x1="586.00" y1="192.70" x2="586.00" y2="198.30" stroke="#1b6fa3" stroke-width="1.2"/>
<line x1="589.00" y1="192.70" x2="589.00" y2="198.30" stroke="#1b6fa3" stroke-width="1.2"/>
<line x1="599.00" y1="196.80" x2="599.00" y2="202.40" stroke="#1b6fa3" stroke-width="1.2"/>
<line x1="604.00" y1="196.80" x2="604.00" y2="202.40" stroke="#1b6fa3" stroke-width="1.2"/>
<line x1="612.00" y1="201.30" x2="612.00" y2="206.90" stroke="#1b6fa3" stroke-width="1.2"/>
<line x1="615.00" y1="201.30" x2="615.00" y2="206.90" stroke="#1b6fa3" stroke-width="1.2"/>
<line x1="619.00" y1="201.30" x2="619.00" y2="206.90" stroke="#1b6fa3" stroke-width="1.2"/>
<line x1="623.00" y1="207.00" x2="623.00" y2="212.60" stroke="#1b6fa3" stroke-width="1.2"/>
<line x1="628.00" y1="207.00" x2="628.00" y2="212.60" stroke="#1b6fa3" stroke-width="1.2"/>
<line x1="637.00" y1="207.00" x2="637.00" y2="212.60" stroke="#1b6fa3" stroke-width="1.2"/>
<line x1="642.00" y1="207.00" x2="642.00" y2="212.60" stroke="#1b6fa3" stroke-width="1.2"/>
<line x1="646.00" y1="207.00" x2="646.00" y2="212.60" stroke="#1b6fa3" stroke-width="1.2"/>
<line x1="649.00" y1="207.00" x2="649.00" y2="212.60" stroke="#1b6fa3" stroke-width="1.2"/>
<line x1="653.00" y1="207.00" x2="653.00" y2="212.60" stroke="#1b6fa3" stroke-width="1.2"/>
<line x1="657.00" y1="207.00" x2="657.00" y2="212.60" stroke="#1b6fa3" stroke-width="1.2"/>
<line x1="660.00" y1="207.00" x2="660.00" y2="212.60" stroke="#1b6fa3" stroke-width="1.2"/>
<line x1="542.00" y1="179.60" x2="542.00" y2="185.20" stroke="#1b6fa3" stroke-width="1.2"/>
<line x1="545.00" y1="180.00" x2="545.00" y2="185.60" stroke="#1b6fa3" stroke-width="1.2"/>
<line x1="566.00" y1="181.80" x2="566.00" y2="187.40" stroke="#1b6fa3" stroke-width="1.2"/>
<line x1="569.00" y1="182.70" x2="569.00" y2="188.30" stroke="#1b6fa3" stroke-width="1.2"/>
<text x="428.60" y="355.80" font-size="10.9" text-anchor="start" font-weight="normal" fill="#000"  >Number at risk</text>
<line x1="428.10" y1="362.40" x2="428.10" y2="416.20" stroke="#333" stroke-width="1.1"/>
<line x1="428.10" y1="416.20" x2="685.30" y2="416.20" stroke="#333" stroke-width="1.1"/>
<line x1="425.10" y1="370.20" x2="428.10" y2="370.20" stroke="#333" stroke-width="1"/>
<text x="423.60" y="371.80" font-size="8.2" text-anchor="end" font-weight="normal" fill="#1b6fa3"  ><tspan font-style="italic">ATM</tspan> wt</text>
<text x="439.70" y="373.40" font-size="9" text-anchor="middle" font-weight="normal" fill="#000"  >1444</text>
<text x="517.30" y="373.40" font-size="9" text-anchor="middle" font-weight="normal" fill="#000"  >335</text>
<text x="594.90" y="373.40" font-size="9" text-anchor="middle" font-weight="normal" fill="#000"  >40</text>
<text x="672.50" y="373.40" font-size="9" text-anchor="middle" font-weight="normal" fill="#000"  >1</text>
<line x1="425.10" y1="382.87" x2="428.10" y2="382.87" stroke="#333" stroke-width="1"/>
<text x="423.60" y="385.00" font-size="8.2" text-anchor="end" font-weight="normal" fill="#d5461a"  ><tspan font-style="italic">ATM</tspan> mut</text>
<text x="439.70" y="386.07" font-size="9" text-anchor="middle" font-weight="normal" fill="#000"  >21</text>
<text x="517.30" y="386.07" font-size="9" text-anchor="middle" font-weight="normal" fill="#000"  >1</text>
<text x="594.90" y="386.07" font-size="9" text-anchor="middle" font-weight="normal" fill="#000"  >0</text>
<text x="672.50" y="386.07" font-size="9" text-anchor="middle" font-weight="normal" fill="#000"  >0</text>
<line x1="425.10" y1="395.54" x2="428.10" y2="395.54" stroke="#333" stroke-width="1"/>
<text x="423.60" y="398.00" font-size="8.2" text-anchor="end" font-weight="normal" fill="#e1ab3a"  >del(11q)</text>
<text x="439.70" y="398.74" font-size="9" text-anchor="middle" font-weight="normal" fill="#000"  >28</text>
<text x="517.30" y="398.74" font-size="9" text-anchor="middle" font-weight="normal" fill="#000"  >4</text>
<text x="594.90" y="398.74" font-size="9" text-anchor="middle" font-weight="normal" fill="#000"  >1</text>
<text x="672.50" y="398.74" font-size="9" text-anchor="middle" font-weight="normal" fill="#000"  >1</text>
<line x1="425.10" y1="408.21" x2="428.10" y2="408.21" stroke="#333" stroke-width="1"/>
<text x="423.60" y="410.60" font-size="8.2" text-anchor="end" font-weight="normal" fill="#5e9a62"  >del(11q)+<tspan font-style="italic">ATM</tspan> mut</text>
<text x="439.70" y="411.41" font-size="9" text-anchor="middle" font-weight="normal" fill="#000"  >9</text>
<text x="517.30" y="411.41" font-size="9" text-anchor="middle" font-weight="normal" fill="#000"  >2</text>
<text x="594.90" y="411.41" font-size="9" text-anchor="middle" font-weight="normal" fill="#000"  >0</text>
<text x="672.50" y="411.41" font-size="9" text-anchor="middle" font-weight="normal" fill="#000"  >0</text>
<line x1="439.70" y1="416.20" x2="439.70" y2="419.00" stroke="#333" stroke-width="1"/>
<text x="439.70" y="425.70" font-size="7.9" text-anchor="middle" font-weight="normal" fill="#000"  >0</text>
<line x1="517.30" y1="416.20" x2="517.30" y2="419.00" stroke="#333" stroke-width="1"/>
<text x="517.30" y="425.70" font-size="7.9" text-anchor="middle" font-weight="normal" fill="#000"  >10</text>
<line x1="594.90" y1="416.20" x2="594.90" y2="419.00" stroke="#333" stroke-width="1"/>
<text x="594.90" y="425.70" font-size="7.9" text-anchor="middle" font-weight="normal" fill="#000"  >20</text>
<line x1="672.50" y1="416.20" x2="672.50" y2="419.00" stroke="#333" stroke-width="1"/>
<text x="672.50" y="425.70" font-size="7.9" text-anchor="middle" font-weight="normal" fill="#000"  >30</text>
<text x="561.20" y="436.00" font-size="10.2" text-anchor="middle" font-weight="normal" fill="#000"  >Time to first treatment (years)</text>
<text x="6.60" y="560.80" font-size="12" text-anchor="start" font-weight="bold" fill="#000"  >Risk</text>
<line x1="6.00" y1="563.50" x2="110.50" y2="563.50" stroke="#a8a8a8" stroke-width="1"/>
<text x="6.60" y="578.00" font-size="12" text-anchor="start" font-weight="normal" fill="#000"  >Male gender</text>
<text x="6.60" y="601.93" font-size="12" text-anchor="start" font-weight="normal" fill="#000"  >Age &gt; 64.7 years</text>
<text x="6.60" y="625.86" font-size="12" text-anchor="start" font-weight="normal" fill="#000" font-style="italic" >SF3B1</text>
<text x="6.60" y="649.79" font-size="12" text-anchor="start" font-weight="normal" fill="#000"  ><tspan font-style="italic">TP53</tspan> ab</text>
<text x="6.60" y="673.72" font-size="12" text-anchor="start" font-weight="normal" fill="#000" font-style="italic" >NOTCH1</text>
<text x="6.60" y="697.65" font-size="12" text-anchor="start" font-weight="normal" fill="#000" font-style="italic" >BIRC3</text>
<text x="6.60" y="721.58" font-size="12" text-anchor="start" font-weight="normal" fill="#000" font-style="italic" >EGR2</text>
<text x="6.60" y="745.51" font-size="12" text-anchor="start" font-weight="normal" fill="#000"  ><tspan font-style="italic">NFKBIE</tspan> hotspot</text>
<text x="6.60" y="769.44" font-size="12" text-anchor="start" font-weight="normal" fill="#000" font-style="italic" >XPO1</text>
<text x="6.60" y="793.37" font-size="12" text-anchor="start" font-weight="normal" fill="#000" font-style="italic" >POT1</text>
<text x="6.60" y="817.30" font-size="12" text-anchor="start" font-weight="normal" fill="#000" font-style="italic" >MYD88</text>
<text x="6.60" y="841.23" font-size="12" text-anchor="start" font-weight="normal" fill="#000"  >Trisomy 12</text>
<text x="6.60" y="865.16" font-size="12" text-anchor="start" font-weight="normal" fill="#000"  ><tspan font-style="italic">ATM</tspan> mut</text>
<text x="6.60" y="889.09" font-size="12" text-anchor="start" font-weight="normal" fill="#000"  >del(11q)</text>
<line x1="110.50" y1="532.30" x2="349.50" y2="532.30" stroke="#000" stroke-width="1.3"/>
<text x="207.90" y="528.10" font-size="14" text-anchor="start" font-weight="normal" fill="#000"  >U-CLL</text>
<text x="260.70" y="558.9" font-size="12"><tspan font-weight="bold">HR</tspan><tspan font-size="15" fill="#222" dy="0.8">(</tspan><tspan font-weight="bold" dy="-0.8">CI</tspan><tspan font-size="8.2" dy="2.6" fill="#222">95</tspan><tspan font-size="15" dy="-1.8" fill="#222">)</tspan></text>
<line x1="260.40" y1="563.50" x2="350.00" y2="563.50" stroke="#a8a8a8" stroke-width="1"/>
<line x1="156.50" y1="575.20" x2="156.50" y2="909.40" stroke="#c8c8c8" stroke-width="1.2"/>
<line x1="156.00" y1="575.10" x2="172.24" y2="575.10" stroke="#3a3a3a" stroke-width="1.2"/>
<circle cx="164.35" cy="575.10" r="2.9" fill="#000"/>
<text x="260.50" y="578.00" font-size="12.2">1.17 (0.99–1.37)</text>
<line x1="147.18" y1="599.03" x2="163.05" y2="599.03" stroke="#3a3a3a" stroke-width="1.2"/>
<circle cx="154.98" cy="599.03" r="2.9" fill="#000"/>
<text x="260.50" y="601.93" font-size="12.2">0.97 (0.83–1.14)</text>
<line x1="166.85" y1="622.96" x2="189.63" y2="622.96" stroke="#3a3a3a" stroke-width="1.2"/>
<circle cx="178.09" cy="622.96" r="2.9" fill="#000"/>
<text x="260.50" y="625.86" font-size="12.2">1.54 (1.23–1.94)<tspan font-size="10.8" dy="-3">***</tspan></text>
<line x1="160.81" y1="646.89" x2="183.91" y2="646.89" stroke="#3a3a3a" stroke-width="1.2"/>
<circle cx="172.24" cy="646.89" r="2.9" fill="#000"/>
<text x="260.50" y="649.79" font-size="12.2">1.37 (1.09–1.73)<tspan font-size="10.8" dy="-3">**</tspan></text>
<line x1="147.78" y1="670.82" x2="167.26" y2="670.82" stroke="#3a3a3a" stroke-width="1.2"/>
<circle cx="157.49" cy="670.82" r="2.9" fill="#000"/>
<text x="260.50" y="673.72" font-size="12.2">1.02 (0.84–1.24)</text>
<line x1="144.08" y1="694.75" x2="184.77" y2="694.75" stroke="#3a3a3a" stroke-width="1.2"/>
<circle cx="164.35" cy="694.75" r="2.9" fill="#000"/>
<text x="260.50" y="697.65" font-size="12.2">1.17 (0.78–1.76)</text>
<line x1="158.94" y1="718.68" x2="196.15" y2="718.68" stroke="#3a3a3a" stroke-width="1.2"/>
<circle cx="177.76" cy="718.68" r="2.9" fill="#000"/>
<text x="260.50" y="721.58" font-size="12.2">1.53 (1.05–2.21)<tspan font-size="10.8" dy="-3">*</tspan></text>
<line x1="134.19" y1="742.61" x2="169.62" y2="742.61" stroke="#3a3a3a" stroke-width="1.2"/>
<circle cx="151.78" cy="742.61" r="2.9" fill="#000"/>
<text x="260.50" y="745.51" font-size="12.2">0.91 (0.64–1.30)</text>
<line x1="155.49" y1="766.54" x2="182.14" y2="766.54" stroke="#3a3a3a" stroke-width="1.2"/>
<circle cx="168.84" cy="766.54" r="2.9" fill="#000"/>
<text x="260.50" y="769.44" font-size="12.2">1.28 (0.98–1.67)</text>
<line x1="133.40" y1="790.47" x2="170.00" y2="790.47" stroke="#3a3a3a" stroke-width="1.2"/>
<circle cx="151.78" cy="790.47" r="2.9" fill="#000"/>
<text x="260.50" y="793.37" font-size="12.2">0.91 (0.63–1.31)</text>
<line x1="121.90" y1="814.40" x2="172.97" y2="814.40" stroke="#3a3a3a" stroke-width="1.2"/>
<polyline points="125.50,812.10 121.90,814.40 125.50,816.70" fill="none" stroke="#3a3a3a" stroke-width="1.1"/>
<circle cx="115.45" cy="814.40" r="2.9" fill="#000"/>
<text x="260.50" y="817.30" font-size="12.2">0.44 (0.14–1.39)</text>
<line x1="163.05" y1="838.33" x2="183.03" y2="838.33" stroke="#3a3a3a" stroke-width="1.2"/>
<circle cx="172.97" cy="838.33" r="2.9" fill="#000"/>
<text x="260.50" y="841.23" font-size="12.2">1.39 (1.14–1.70)<tspan font-size="10.8" dy="-3">**</tspan></text>
<line x1="148.96" y1="862.26" x2="172.97" y2="862.26" stroke="#3a3a3a" stroke-width="1.2"/>
<circle cx="160.81" cy="862.26" r="2.9" fill="#000"/>
<text x="260.50" y="865.16" font-size="12.2">1.09 (0.86–1.39)</text>
<line x1="164.35" y1="886.19" x2="184.77" y2="886.19" stroke="#3a3a3a" stroke-width="1.2"/>
<circle cx="174.38" cy="886.19" r="2.9" fill="#000"/>
<text x="260.50" y="889.09" font-size="12.2">1.43 (1.17–1.76)<tspan font-size="10.8" dy="-3">***</tspan></text>
<line x1="121.84" y1="909.40" x2="236.97" y2="909.40" stroke="#000" stroke-width="1.1"/>
<line x1="121.84" y1="909.40" x2="121.84" y2="914.40" stroke="#000" stroke-width="1.1"/>
<text x="121.84" y="927.30" font-size="11.3" text-anchor="middle" font-weight="normal" fill="#000"  >0.5</text>
<line x1="156.50" y1="909.40" x2="156.50" y2="914.40" stroke="#000" stroke-width="1.1"/>
<text x="156.50" y="927.30" font-size="11.3" text-anchor="middle" font-weight="normal" fill="#000"  >1.0</text>
<line x1="191.16" y1="909.40" x2="191.16" y2="914.40" stroke="#000" stroke-width="1.1"/>
<text x="191.16" y="927.30" font-size="11.3" text-anchor="middle" font-weight="normal" fill="#000"  >2.0</text>
<line x1="236.97" y1="909.40" x2="236.97" y2="914.40" stroke="#000" stroke-width="1.1"/>
<text x="236.97" y="927.30" font-size="11.3" text-anchor="middle" font-weight="normal" fill="#000"  >5.0</text>
<text x="121.10" y="948.70" font-size="14" text-anchor="start" font-weight="normal" fill="#000"  >Hazard ratio</text>
<line x1="94.50" y1="957.20" x2="271.00" y2="957.20" stroke="#000" stroke-width="1.3"/>
<text x="95.40" y="968.80" font-size="12" text-anchor="start" font-weight="normal" fill="#000"  >n=871</text>
<text x="95.40" y="980.90" font-size="12" text-anchor="start" font-weight="normal" fill="#000"  ># events: 656</text>
<text x="95.40" y="991.80" font-size="12" text-anchor="start" font-weight="normal" fill="#000"  >global p-value: 7.59e-07</text>
<line x1="405.40" y1="532.30" x2="643.70" y2="532.30" stroke="#000" stroke-width="1.3"/>
<text x="502.20" y="528.10" font-size="14" text-anchor="start" font-weight="normal" fill="#000"  >M-CLL</text>
<text x="570.70" y="558.9" font-size="12"><tspan font-weight="bold">HR</tspan><tspan font-size="15" fill="#222" dy="0.8">(</tspan><tspan font-weight="bold" dy="-0.8">CI</tspan><tspan font-size="8.2" dy="2.6" fill="#222">95</tspan><tspan font-size="15" dy="-1.8" fill="#222">)</tspan></text>
<line x1="553.80" y1="563.50" x2="643.70" y2="563.50" stroke="#a8a8a8" stroke-width="1"/>
<line x1="449.80" y1="575.20" x2="449.80" y2="909.40" stroke="#c8c8c8" stroke-width="1.2"/>
<line x1="442.84" y1="575.10" x2="462.14" y2="575.10" stroke="#3a3a3a" stroke-width="1.2"/>
<circle cx="452.71" cy="575.10" r="2.9" fill="#000"/>
<text x="554.50" y="578.00" font-size="12.2">1.06 (0.87–1.28)</text>
<line x1="436.08" y1="599.03" x2="455.47" y2="599.03" stroke="#3a3a3a" stroke-width="1.2"/>
<circle cx="445.63" cy="599.03" r="2.9" fill="#000"/>
<text x="554.50" y="601.93" font-size="12.2">0.92 (0.76–1.12)</text>
<line x1="482.68" y1="622.96" x2="517.98" y2="622.96" stroke="#3a3a3a" stroke-width="1.2"/>
<circle cx="500.38" cy="622.96" r="2.9" fill="#000"/>
<text x="554.50" y="625.86" font-size="12.2">2.75 (1.93–3.91)<tspan font-size="10.8" dy="-3">***</tspan></text>
<line x1="431.97" y1="646.89" x2="468.38" y2="646.89" stroke="#3a3a3a" stroke-width="1.2"/>
<circle cx="450.30" cy="646.89" r="2.9" fill="#000"/>
<text x="554.50" y="649.79" font-size="12.2">1.01 (0.70–1.45)</text>
<line x1="455.91" y1="670.82" x2="495.61" y2="670.82" stroke="#3a3a3a" stroke-width="1.2"/>
<circle cx="475.74" cy="670.82" r="2.9" fill="#000"/>
<text x="554.50" y="673.72" font-size="12.2">1.68 (1.13–2.50)<tspan font-size="10.8" dy="-3">*</tspan></text>
<line x1="422.56" y1="694.75" x2="482.16" y2="694.75" stroke="#3a3a3a" stroke-width="1.2"/>
<circle cx="452.24" cy="694.75" r="2.9" fill="#000"/>
<text x="554.50" y="697.65" font-size="12.2">1.05 (0.58–1.91)</text>
<line x1="457.65" y1="718.68" x2="528.13" y2="718.68" stroke="#3a3a3a" stroke-width="1.2"/>
<circle cx="492.94" cy="718.68" r="2.9" fill="#000"/>
<text x="554.50" y="721.58" font-size="12.2">2.37 (1.17–4.79)<tspan font-size="10.8" dy="-3">*</tspan></text>
<line x1="448.79" y1="742.61" x2="519.98" y2="742.61" stroke="#3a3a3a" stroke-width="1.2"/>
<circle cx="484.46" cy="742.61" r="2.9" fill="#000"/>
<text x="554.50" y="745.51" font-size="12.2">2.00 (0.98–4.07)</text>
<line x1="467.33" y1="766.54" x2="531.50" y2="766.54" stroke="#3a3a3a" stroke-width="1.2"/>
<polyline points="527.90,764.24 531.50,766.54 527.90,768.84" fill="none" stroke="#3a3a3a" stroke-width="1.1"/>
<circle cx="503.89" cy="766.54" r="2.9" fill="#000"/>
<text x="554.50" y="769.44" font-size="12.2">2.95 (1.42–6.15)<tspan font-size="10.8" dy="-3">**</tspan></text>
<line x1="432.68" y1="790.47" x2="531.50" y2="790.47" stroke="#3a3a3a" stroke-width="1.2"/>
<polyline points="527.90,788.17 531.50,790.47 527.90,792.77" fill="none" stroke="#3a3a3a" stroke-width="1.1"/>
<circle cx="482.16" cy="790.47" r="2.9" fill="#000"/>
<text x="554.50" y="793.37" font-size="12.2">1.91 (0.71–5.18)</text>
<line x1="441.67" y1="814.40" x2="484.71" y2="814.40" stroke="#3a3a3a" stroke-width="1.2"/>
<circle cx="463.30" cy="814.40" r="2.9" fill="#000"/>
<text x="554.50" y="817.30" font-size="12.2">1.31 (0.85–2.01)</text>
<line x1="483.19" y1="838.33" x2="510.84" y2="838.33" stroke="#3a3a3a" stroke-width="1.2"/>
<circle cx="497.00" cy="838.33" r="2.9" fill="#000"/>
<text x="554.50" y="841.23" font-size="12.2">2.57 (1.95–3.39)<tspan font-size="10.8" dy="-3">***</tspan></text>
<line x1="425.90" y1="862.26" x2="482.16" y2="862.26" stroke="#3a3a3a" stroke-width="1.2"/>
<circle cx="453.65" cy="862.26" r="2.9" fill="#000"/>
<text x="554.50" y="865.16" font-size="12.2">1.08 (0.62–1.91)</text>
<line x1="491.45" y1="886.19" x2="531.50" y2="886.19" stroke="#3a3a3a" stroke-width="1.2"/>
<polyline points="527.90,883.89 531.50,886.19 527.90,888.49" fill="none" stroke="#3a3a3a" stroke-width="1.1"/>
<circle cx="513.71" cy="886.19" r="2.9" fill="#000"/>
<text x="554.50" y="889.09" font-size="12.2">3.59 (2.30–5.58)<tspan font-size="10.8" dy="-3">***</tspan></text>
<line x1="415.14" y1="909.40" x2="530.27" y2="909.40" stroke="#000" stroke-width="1.1"/>
<line x1="415.14" y1="909.40" x2="415.14" y2="914.40" stroke="#000" stroke-width="1.1"/>
<text x="415.14" y="927.30" font-size="11.3" text-anchor="middle" font-weight="normal" fill="#000"  >0.5</text>
<line x1="449.80" y1="909.40" x2="449.80" y2="914.40" stroke="#000" stroke-width="1.1"/>
<text x="449.80" y="927.30" font-size="11.3" text-anchor="middle" font-weight="normal" fill="#000"  >1.0</text>
<line x1="484.46" y1="909.40" x2="484.46" y2="914.40" stroke="#000" stroke-width="1.1"/>
<text x="484.46" y="927.30" font-size="11.3" text-anchor="middle" font-weight="normal" fill="#000"  >2.0</text>
<line x1="530.27" y1="909.40" x2="530.27" y2="914.40" stroke="#000" stroke-width="1.1"/>
<text x="530.27" y="927.30" font-size="11.3" text-anchor="middle" font-weight="normal" fill="#000"  >5.0</text>
<line x1="438.64" y1="909.40" x2="438.64" y2="914.40" stroke="#000" stroke-width="1.1"/>
<text x="415.40" y="948.70" font-size="14" text-anchor="start" font-weight="normal" fill="#000"  >Hazard ratio</text>
<line x1="389.00" y1="957.20" x2="565.30" y2="957.20" stroke="#000" stroke-width="1.3"/>
<text x="389.90" y="968.80" font-size="12" text-anchor="start" font-weight="normal" fill="#000"  >n=1498</text>
<text x="389.90" y="980.90" font-size="12" text-anchor="start" font-weight="normal" fill="#000"  ># events: 440</text>
<text x="389.90" y="991.80" font-size="12" text-anchor="start" font-weight="normal" fill="#000"  >global p-value: 3.01e-20</text>
</svg></body></html>
